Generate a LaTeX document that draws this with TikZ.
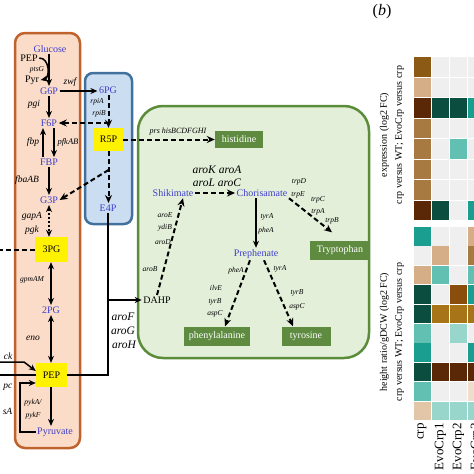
\documentclass[tikz,border=0pt]{standalone}
\usepackage{fontspec}
\setmainfont{Liberation Serif}
\usepackage{tikz}
\usetikzlibrary{arrows.meta, positioning, calc}
\definecolor{glycfill}{HTML}{FADCC8}
\definecolor{glycline}{HTML}{C0622B}
\definecolor{pppfill}{HTML}{CBDDF0}
\definecolor{pppline}{HTML}{41719C}
\definecolor{aafill}{HTML}{E3EFD9}
\definecolor{aaline}{HTML}{5B8C3A}
\definecolor{aabox}{HTML}{5E8B3F}
\definecolor{metblue}{HTML}{3F3FCC}
\definecolor{hlyellow}{HTML}{FFF200}
\definecolor{hgrey}{HTML}{EFEFEF}
\definecolor{hbrA}{HTML}{8B5A14}
\definecolor{hbrB}{HTML}{8A4D0C}
\definecolor{htan}{HTML}{D5AE88}
\definecolor{hmbr}{HTML}{A67A40}
\definecolor{hdbr}{HTML}{5A2807}
\definecolor{hoch}{HTML}{A87418}
\definecolor{hptan}{HTML}{E3C6A8}
\definecolor{hptanB}{HTML}{F0DDCC}
\definecolor{hdtl}{HTML}{0B4E3F}
\definecolor{htl}{HTML}{1A9E8F}
\definecolor{hltl}{HTML}{62C0B3}
\definecolor{hpltl}{HTML}{98D5CB}
\tikzset{
  pathway/.style={rounded corners=10pt, line width=2.5pt},
  metab/.style={text=metblue, font=\fontsize{10}{12}\selectfont, inner sep=1.5pt},
  plainmetab/.style={font=\fontsize{10}{12}\selectfont, inner sep=1.5pt},
  keymetab/.style={rectangle, fill=hlyellow, minimum width=31pt, minimum height=24pt, text centered, font=\fontsize{10}{12}\selectfont},
  product/.style={rectangle, fill=aabox, text=white, minimum height=19pt, inner sep=3pt, font=\fontsize{10}{12}\selectfont},
  gene/.style={font=\fontsize{9.5}{11}\selectfont\itshape, inner sep=0.5pt},
  smallgene/.style={font=\fontsize{7.5}{9}\selectfont\itshape, inner sep=0.5pt},
  biggene/.style={font=\fontsize{11.5}{13.5}\selectfont\itshape, inner sep=0.5pt, align=center},
  arrow/.style={line width=1.5pt,-{Stealth[length=7pt,width=6pt]}},
  dblarrow/.style={line width=1.5pt,{Stealth[length=7pt,width=6pt]}-{Stealth[length=7pt,width=6pt]}},
  dashedarrow/.style={line width=2pt,-{Stealth[length=8pt,width=7pt]}, dash pattern=on 5pt off 3pt},
  axislabel/.style={rotate=90, font=\fontsize{10}{15}\selectfont, align=center},
  collabel/.style={rotate=90, anchor=east, font=\fontsize{13}{15}\selectfont, inner sep=0pt}
}
\begin{document}
\begin{tikzpicture}[x=1pt, y=-1pt]
\useasboundingbox (0,0) rectangle (474,474);

\draw[pathway, fill=glycfill, draw=glycline] (15,33) rectangle (80,448);
\draw[pathway, rounded corners=8pt, fill=pppfill, draw=pppline] (85,73) rectangle (132,224);
\draw[pathway, rounded corners=25pt, fill=aafill, draw=aaline] (138,106) rectangle (369,358);

\node[metab] (glc) at (50,49) {Glucose};
\node[plainmetab] (pepin) at (29,58) {PEP};
\node[plainmetab] (pyr) at (32,80) {Pyr};
\node[metab] (g6p) at (49,91) {G6P};
\node[metab] (pg6) at (108,90) {6PG};
\node[metab] (f6p) at (49,123) {F6P};
\node[keymetab, minimum width=29pt, minimum height=23pt] (r5p) at (108.5,139.5) {R5P};
\node[metab] (fbp) at (49,162) {FBP};
\node[metab] (g3p) at (49,200) {G3P};
\node[metab] (e4p) at (108,208) {E4P};
\node[keymetab, minimum width=33pt, minimum height=25pt] (pg3) at (51.5,249.5) {3PG};
\node[metab] (pg2) at (51,310) {2PG};
\node[keymetab] (pep) at (51.5,375) {PEP};
\node[metab] (pyruvate) at (55,432) {Pyruvate};

\node[product, minimum width=48pt, minimum height=17pt] (his) at (239,139.5) {histidine};
\node[metab] (shik) at (173,193) {Shikimate};
\node[metab] (chor) at (262,193) {Chorisamate};
\node[metab] (preph) at (256,254) {Prephenate};
\node[plainmetab] (dahp) at (157,300) {DAHP};
\node[product, minimum width=60pt] (trp) at (340,250) {Tryptophan};
\node[product, minimum width=66pt] (phe) at (217,336) {phenylalanine};
\node[product, minimum width=49pt] (tyr) at (306,336) {tyrosine};

\coordinate (r5pup) at (108.5,123);
\coordinate (r5pdown) at (108.5,170);
\coordinate (serout) at (-2,249.5);
\coordinate (pckin) at (-2,362);
\coordinate (pckbend) at (24,362);
\coordinate (ppcout) at (-2,375);
\coordinate (ppsbend) at (20,405);

\draw[arrow] (glc.south -| g6p.north) -- (g6p.north);
\draw[arrow] (pepin.east) .. controls (50,58) and (50,78) .. (pyr.east);
\draw[arrow] (g6p.east) -- (g6p.east -| pg6.west);
\draw[arrow] (g6p) -- (f6p);
\draw[arrow] ([xshift=-6pt]fbp.north) -- ([xshift=-6pt]f6p.south);
\draw[arrow] ([xshift=5pt]f6p.south) -- ([xshift=5pt]fbp.north);
\draw[arrow] (fbp) -- (g3p);
\draw[dblarrow, dash pattern=on 2pt off 2pt] (g3p) -- (g3p |- pg3.north);
\draw[dblarrow] (pg3.south -| pg2.north) -- (pg2.north);
\draw[dblarrow] (pg2.south) -- (pg2.south |- pep.north);
\draw[arrow] (pep.south -| pg2.south) -- (pg2.south |- pyruvate.north);
\draw[dashedarrow] (pg6.south -| r5p.north) -- (r5p.north);
\draw[dashedarrow] (r5pup) -- (r5pup -| f6p.east);
\draw[dashedarrow] (r5pdown) -- (g3p.east);
\draw[dashedarrow] (r5p.south) -- (r5p.south |- e4p.north);
\draw[line width=2pt, dash pattern=on 5pt off 3pt] (pg3.west) -- (serout);
\draw[arrow] (pckin) -- (pckbend) -- ([yshift=4pt]pep.west);
\draw[line width=1.5pt] (pep.west) -- (ppcout);
\draw[arrow] (pyruvate.west) -| (ppsbend) |- ([yshift=-8pt]pep.west);
\draw[line width=1.5pt] (pep.east) -| (e4p.south);
\draw[arrow] (e4p.south |- dahp.west) -- (dahp.west);

\draw[dashedarrow] (r5p) -- (his);
\draw[dashedarrow] (dahp.north) -- ([xshift=10pt]shik.south);
\draw[dashedarrow] (shik) -- (chor);
\draw[arrow] (preph.north |- chor.south) -- (preph.north);
\draw[dashedarrow] (chor.south east) -- ($(trp.north)+(-8,-8)$);
\draw[dashedarrow] ([xshift=-6pt]preph.south) -- ([xshift=8pt]phe.north);
\draw[dashedarrow] ([xshift=8pt]preph.south) -- ([xshift=-13pt]tyr.north);

\node[smallgene] (ptsg) at (37,70) {ptsG};
\node[gene] (zwf) at (70,82) {zwf};
\node[gene] (pgi) at (34,104) {pgi};
\node[smallgene] (rpia) at (97,102) {rpiA};
\node[smallgene] (rpib) at (99,114) {rpiB};
\node[gene] (fbpg) at (33,142) {fbp};
\node[smallgene, font=\fontsize{8.5}{10}\selectfont\itshape] (pfk) at (68,142) {pfkAB};
\node[gene] (fba) at (27,180) {fbaAB};
\node[gene] (gapa) at (32,216) {gapA};
\node[gene] (pgk) at (32,230) {pgk};
\node[smallgene] (gpm) at (32,280) {gpmAM};
\node[gene] (eno) at (33,338) {eno};
\node[smallgene] (pyka) at (33,403) {pykA/};
\node[smallgene] (pykf) at (33,416) {pykF};
\node[gene, anchor=east] (pck) at (13,356) {ck};
\node[gene, anchor=east] (ppc) at (13,387) {pc};
\node[gene, anchor=east] (ppsa) at (13,411) {sA};
\node[biggene] (arof) at (123,317) {aroF};
\node[biggene] (arog) at (123,331) {aroG};
\node[biggene] (aroh) at (124,345) {aroH};

\node[smallgene, font=\fontsize{8}{9}\selectfont\itshape] (hisg) at (178,132) {prs hisBCDFGHI};
\node[biggene] (arok) at (217,176.5) {aroK aroA\\aroL aroC};
\node[smallgene] (aroe) at (165,215) {aroE};
\node[smallgene] (ydib) at (165,228) {ydiB};
\node[smallgene] (arod) at (163,242) {aroD};
\node[smallgene] (arob) at (150,269) {aroB};
\node[smallgene] (trpd) at (299,182) {trpD};
\node[smallgene] (trpe) at (298,195) {trpE};
\node[smallgene] (trpc) at (318,200) {trpC};
\node[smallgene] (trpa) at (318,212) {trpA};
\node[smallgene] (trpb) at (332,221) {trpB};
\node[smallgene] (tyra) at (267,217) {tyrA};
\node[smallgene] (phea) at (266,231) {pheA};
\node[smallgene] (pheab) at (236,271) {pheA};
\node[smallgene] (tyrab) at (280,269) {tyrA};
\node[smallgene] (ilve) at (216,288) {ilvE};
\node[smallgene] (tyrb) at (215,302) {tyrB};
\node[smallgene] (aspc) at (215,314) {aspC};
\node[smallgene] (tyrbb) at (297,293) {tyrB};
\node[smallgene] (aspcb) at (297,307) {aspC};

\node[font=\fontsize{16}{18}\selectfont] (panelb) at (382,12) {(\textit{b})};

\foreach \c [count=\n from 0] in {hbrA,hgrey,hgrey,hgrey, htan,hgrey,hgrey,hgrey, hdbr,hdtl,hdtl,htl, hmbr,hgrey,hgrey,hgrey, hmbr,hgrey,hltl,hgrey, hmbr,hgrey,hgrey,hgrey, hmbr,hgrey,hgrey,hgrey, hdbr,hdtl,hgrey,htl} {
  \pgfmathtruncatemacro{\row}{div(\n,4)}
  \pgfmathtruncatemacro{\col}{mod(\n,4)}
  \fill[\c] ({413.5+18.2*\col},{57+20.5*\row}) rectangle +(17.2,19.5);
}
\foreach \c [count=\n from 0] in {htl,hgrey,hgrey,htan, hgrey,htan,hgrey,hmbr, htan,hltl,hgrey,hltl, hdtl,hgrey,hbrB,htl, hdtl,hoch,hoch,hoch, hltl,hgrey,hpltl,hgrey, htl,hgrey,hgrey,htl, hdtl,hdbr,hdbr,hdbr, hltl,hgrey,hgrey,hptanB, hptan,hpltl,hpltl,hpltl} {
  \pgfmathtruncatemacro{\row}{div(\n,4)}
  \pgfmathtruncatemacro{\col}{mod(\n,4)}
  \fill[\c] ({413.5+18.2*\col},{227+19.4*\row}) rectangle +(17.2,18.5);
}

\node[axislabel] (exprlab) at (392,135) {expression (log2 FC)\\crp versus WT; EvoCrp versus crp};
\node[axislabel] (heightlab) at (392,332) {height ratio/gDCW (log2 FC)\\crp versus WT; EvoCrp versus crp};
\node[collabel] (ccrp) at (422,423) {crp};
\node[collabel] (cevo1) at (440.5,423) {EvoCrp1};
\node[collabel] (cevo2) at (458.5,423) {EvoCrp2};
\node[collabel] (cevo3) at (476.5,423) {EvoCrp3};
\end{tikzpicture}
\end{document}
